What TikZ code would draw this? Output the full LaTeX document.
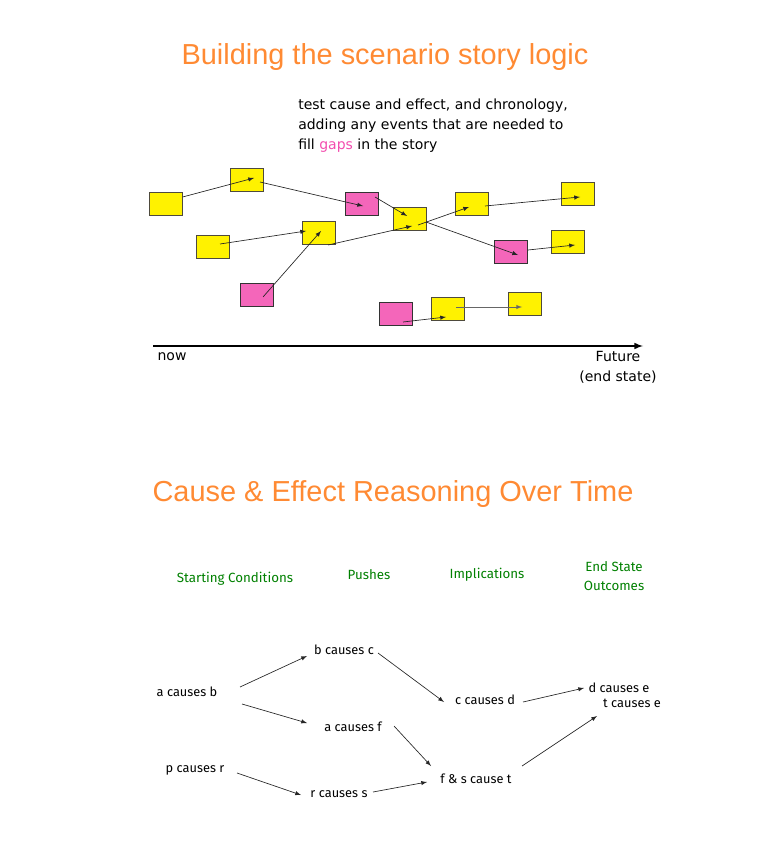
\documentclass[tikz,border=0pt]{standalone}
\usepackage{fontspec}
\setmainfont{Liberation Sans}
\newfontfamily\txtf{DejaVu Sans}
\newfontfamily\lblf{Fira Sans}
\newfontfamily\lblfm{Fira Sans Medium}
\begin{document}
\begin{tikzpicture}[x=0.75pt,y=-0.75pt,
  ybox/.style={draw=black!80!yellow,fill=yellow,minimum width=24.5pt,minimum height=17.5pt,inner sep=0pt},
  pbox/.style={draw=black!80,fill=magenta!60,minimum width=24.5pt,minimum height=17.5pt,inner sep=0pt},
  con/.style={-latex,black!85,line width=0.5pt},
  ttl/.style={text=orange!85!red!80!white,font=\fontsize{21.7}{26}\selectfont},
  grn/.style={text=green!50!black,font=\lblf\fontsize{10}{14}\selectfont,align=center},
  lbl/.style={font=\lblf\fontsize{9.6}{11}\selectfont,inner sep=1pt}]
\useasboundingbox (0,0) rectangle (768,866);
\node[ttl] (t1) at (385,57) {Building the scenario story logic};
\node[ttl] (t2) at (393,494) {Cause \& Effect Reasoning Over Time};
\node[anchor=north west,align=left,font=\txtf\fontsize{10.5}{15}\selectfont,inner sep=0pt] (desc) at (298,99)
 {test cause and effect, and chronology,\\adding any events that are needed to\\fill \textcolor{magenta!70}{gaps} in the story};
\node[ybox] (b1) at (166,204) {};
\node[ybox] (b2) at (247,180) {};
\node[pbox] (p1) at (362,204) {};
\node[ybox] (b3) at (410,219) {};
\node[ybox] (b4) at (472,204) {};
\node[ybox] (b5) at (578,194) {};
\node[ybox] (b6) at (213,247) {};
\node[ybox] (b7) at (319,233) {};
\node[pbox] (p2) at (257,295) {};
\node[pbox] (p3) at (511,252) {};
\node[ybox] (b8) at (568,242) {};
\node[pbox] (p4) at (396,314) {};
\node[ybox] (b9) at (448,309) {};
\node[ybox] (b10) at (525,304) {};
\draw[con] ([shift={(0,5.25pt)}]b1.east) -- ([shift={(5.25pt,1.5pt)}]b2.center);
\draw[con] ([shift={(9.75pt,-1.5pt)}]b2.center) -- ([shift={(0.75pt,-1.5pt)}]p1.center);
\draw[con] ([shift={(9.75pt,5.25pt)}]p1.center) -- ([shift={(-2.25pt,2.25pt)}]b3.center);
\draw[con] ([shift={(5.25pt,2.25pt)}]b6.center) -- ([shift={(-9.75pt,1.5pt)}]b7.center);
\draw[con] ([shift={(4.5pt,-1.5pt)}]p2.center) -- ([shift={(1.5pt,1.5pt)}]b7.center);
\draw[con] ([shift={(6.75pt,-9pt)}]b7.center) -- ([shift={(1.5pt,-5.25pt)}]b3.center);
\draw[con] ([shift={(6pt,-4.5pt)}]b3.center) -- ([shift={(-2.25pt,-2.25pt)}]b4.center);
\draw[con] ([shift={(12pt,-2.25pt)}]b3.center) -- ([shift={(5.25pt,-2.25pt)}]p3.center);
\draw[con] ([shift={(9.75pt,-1.5pt)}]b4.center) -- ([shift={(1.5pt,-2.25pt)}]b5.center);
\draw[con] ([shift={(12.75pt,1.5pt)}]p3.center) -- ([shift={(5.25pt,-2.25pt)}]b8.center);
\draw[con] ([shift={(5.25pt,-6pt)}]p4.center) -- ([shift={(-1.5pt,-6pt)}]b9.center);
\draw[con,black!60] ([shift={(6pt,1.5pt)}]b9.center) -- ([shift={(-2.25pt,-2.25pt)}]b10.center);
\coordinate (ax0) at (153,346);
\coordinate (ax1) at (643,346);
\draw[-latex,line width=1.2pt] (ax0) -- (ax1);
\node[font=\txtf\fontsize{10.5}{15}\selectfont] (now) at (172,357) {now};
\node[font=\txtf\fontsize{10.5}{15}\selectfont,align=center] (fut) at (618,367) {Future\\(end state)};
\node[grn] (h1) at (235,579) {Starting Conditions};
\node[grn] (h2) at (369,575) {Pushes};
\node[grn] (h3) at (487,575) {Implications};
\node[grn] (h4) at (614,576) {End State\\Outcomes};
\node[lbl] (ab) at (187,692) {a causes b};
\node[lbl] (bc) at (344,650) {b causes c};
\node[lbl] (cd) at (485,700) {c causes d};
\node[lbl] (de) at (619,688) {d causes e};
\node[lbl] (te) at (632,703) {t causes e};
\node[lbl] (af) at (353,727) {a causes f};
\node[lbl] (pr) at (195,770) {p causes r};
\node[lbl] (rs) at (339,794) {r causes s};
\node[lbl] (fs) at (476,779) {f \& s cause t};
\draw[con] (240,687) -- (307,656);
\draw[con] (378,653) -- (444,702);
\draw[con] (523,702) -- (584,688);
\draw[con] (242,704) -- (307,723);
\draw[con] (394,726) -- (431,766);
\draw[con] (522,766) -- (597,716);
\draw[con] (237,773) -- (301,795);
\draw[con] (373,792) -- (427,782);
\end{tikzpicture}
\end{document}
